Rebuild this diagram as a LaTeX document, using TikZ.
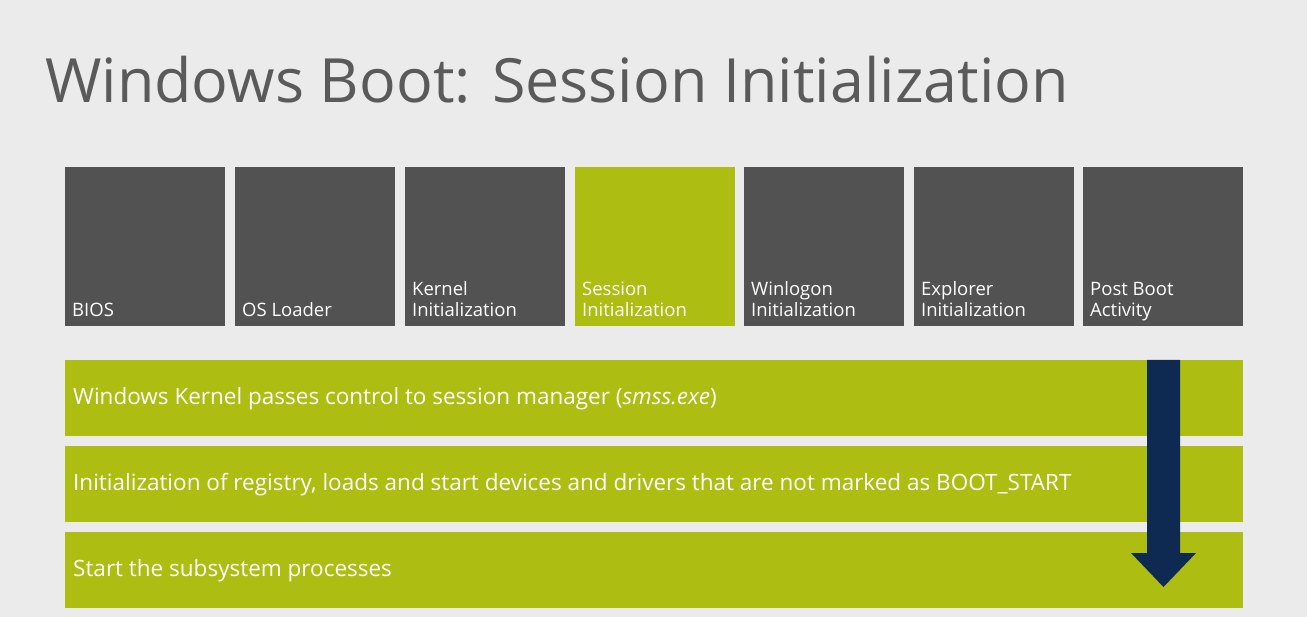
\documentclass[tikz,border=0pt]{standalone}
\usepackage{fontspec}
\setmainfont{Open Sans}
\definecolor{bg}{HTML}{EBEBEB}
\definecolor{gbox}{HTML}{525252}
\definecolor{grn}{HTML}{ADBD12}
\definecolor{navy}{HTML}{0F2A52}
\definecolor{ttl}{HTML}{5A5A5A}
\begin{document}
\begin{tikzpicture}[x=1pt,y=-1pt,
  stage/.style={fill=#1,minimum width=160pt,minimum height=159pt,inner sep=0pt,text=white,anchor=north west},
  lbl/.style={anchor=south west,text=white,font=\fontsize{18.5}{21}\selectfont,align=left,inner sep=0pt},
  bar/.style={fill=grn,minimum width=1178pt,minimum height=76pt,inner sep=0pt,anchor=north west},
  bartxt/.style={anchor=west,text=white,font=\fontsize{22.5}{24}\selectfont,inner sep=0pt}]
\fill[bg] (0,0) rectangle (1307,617);
\useasboundingbox (0,0) rectangle (1307,617);
\node[anchor=base west,inner sep=0pt,text=ttl,font=\fontsize{61}{66}\selectfont] (title) at (45,103) {Windows Boot: Session Initialization};
\foreach \x/\c/\t [count=\i] in {65/gbox/BIOS,235/gbox/OS Loader,405/gbox/Kernel\\Initialization,575/grn/Session\\Initialization,744/gbox/Winlogon\\Initialization,914/gbox/Explorer\\Initialization,1083/gbox/Post Boot\\Activity}{
  \node[stage=\c] (s\i) at (\x,167) {};
  \node[lbl] (l\i) at ([xshift=7pt,yshift=3pt]s\i.south west) {\t\strut};
}
\node[bar] (b1) at (65,360) {};
\node[bar] (b2) at (65,446) {};
\node[bar] (b3) at (65,532) {};
\node[bartxt] (t1) at ([xshift=8pt]b1.west) {Windows Kernel passes control to session manager (\textit{smss.exe})};
\node[bartxt] (t2) at ([xshift=8pt]b2.west) {Initialization of registry, loads and start devices and drivers that are not marked as BOOT\_START};
\node[bartxt] (t3) at ([xshift=8pt]b3.west) {Start the subsystem processes};
\fill[navy] (1147,360) -- (1180,360) -- (1180,553) -- (1196,553) -- (1163.5,587) -- (1131,553) -- (1147,553) -- cycle;
\end{tikzpicture}
\end{document}
